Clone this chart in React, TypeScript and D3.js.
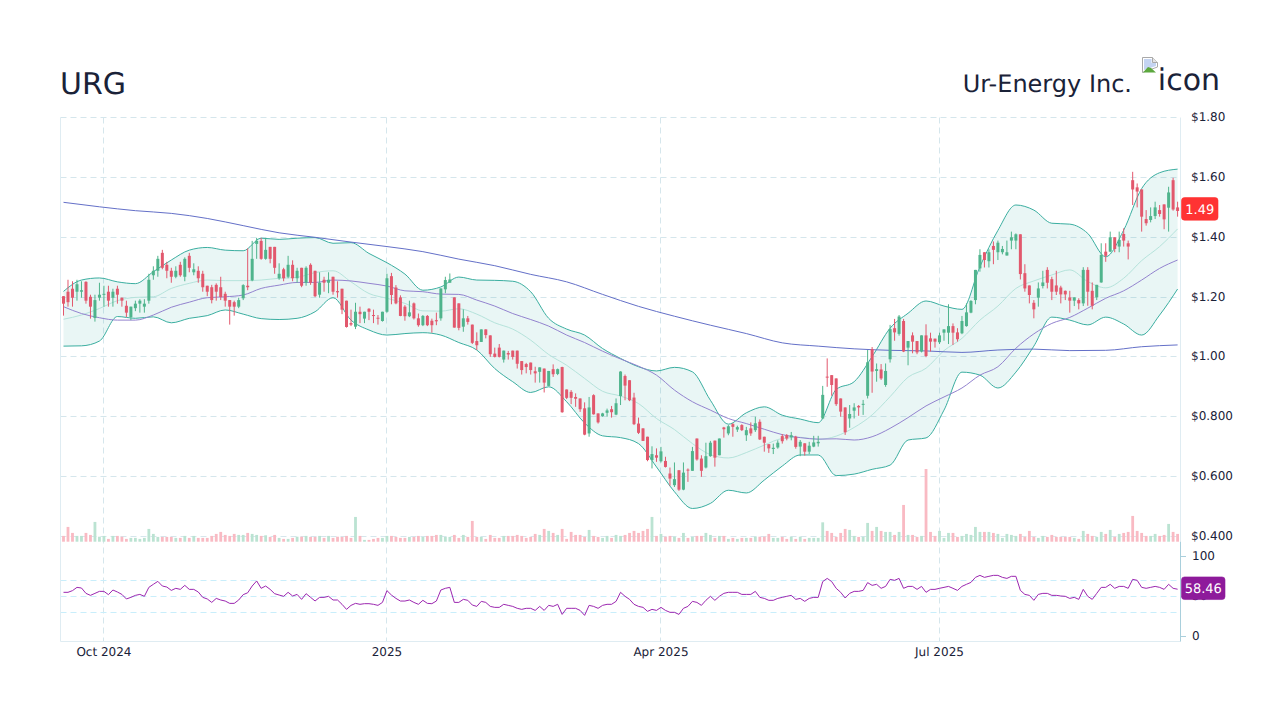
import React, { useEffect, useRef } from 'react';
import * as d3 from 'd3';

// --- Chart data ---
const symbol = 'URG';
const companyName = 'Ur-Energy Inc.';
const lastPrice = 1.49;
const lastRsi = 58.46;

const priceTicks = [1.8, 1.6, 1.4, 1.2, 1.0, 0.8, 0.6, 0.4];
const rsiTicks = [100, 50, 0];
const rsiGrid = [70, 50, 30];
const dateTickIndex = [9, 72, 133, 195];
const dateTickLabels = ['Oct 2024', '2025', 'Apr 2025', 'Jul 2025'];

// open, high, low, close per trading day
const ohlc: number[][] = [
  [1.2, 1.2, 1.135, 1.175], [1.215, 1.255, 1.165, 1.18], [1.225, 1.25, 1.165, 1.195], [1.215, 1.255, 1.185, 1.24],
  [1.215, 1.25, 1.195, 1.22], [1.248, 1.25, 1.175, 1.185], [1.198, 1.205, 1.125, 1.165], [1.127, 1.205, 1.115, 1.187],
  [1.195, 1.245, 1.185, 1.205], [1.205, 1.235, 1.165, 1.208], [1.215, 1.235, 1.165, 1.185], [1.195, 1.225, 1.165, 1.215],
  [1.225, 1.235, 1.175, 1.205], [1.195, 1.195, 1.165, 1.185], [1.168, 1.185, 1.13, 1.145], [1.13, 1.165, 1.12, 1.165],
  [1.16, 1.185, 1.15, 1.175], [1.175, 1.19, 1.145, 1.185], [1.165, 1.19, 1.145, 1.175], [1.185, 1.275, 1.175, 1.255],
  [1.27, 1.3, 1.255, 1.285], [1.285, 1.335, 1.265, 1.325], [1.345, 1.355, 1.29, 1.295], [1.305, 1.315, 1.26, 1.285],
  [1.285, 1.295, 1.245, 1.265], [1.265, 1.3, 1.26, 1.285], [1.305, 1.315, 1.265, 1.27], [1.265, 1.33, 1.25, 1.325],
  [1.335, 1.345, 1.28, 1.295], [1.28, 1.31, 1.27, 1.29], [1.285, 1.3, 1.245, 1.26], [1.275, 1.285, 1.215, 1.23],
  [1.235, 1.235, 1.2, 1.215], [1.23, 1.238, 1.176, 1.187], [1.238, 1.243, 1.185, 1.215], [1.23, 1.265, 1.187, 1.197],
  [1.208, 1.215, 1.165, 1.185], [1.187, 1.187, 1.105, 1.165], [1.18, 1.185, 1.135, 1.165], [1.165, 1.195, 1.16, 1.187],
  [1.193, 1.24, 1.187, 1.237], [1.235, 1.36, 1.22, 1.23], [1.253, 1.385, 1.25, 1.325], [1.375, 1.395, 1.325, 1.385],
  [1.385, 1.395, 1.322, 1.325], [1.325, 1.395, 1.322, 1.355], [1.365, 1.365, 1.31, 1.325], [1.365, 1.365, 1.275, 1.295],
  [1.26, 1.31, 1.255, 1.275], [1.29, 1.295, 1.25, 1.26], [1.265, 1.335, 1.26, 1.305], [1.305, 1.32, 1.25, 1.26],
  [1.26, 1.295, 1.245, 1.285], [1.295, 1.295, 1.23, 1.235], [1.245, 1.3, 1.235, 1.295], [1.305, 1.31, 1.238, 1.245],
  [1.285, 1.285, 1.197, 1.2], [1.205, 1.28, 1.195, 1.245], [1.255, 1.265, 1.215, 1.245], [1.245, 1.28, 1.21, 1.255],
  [1.265, 1.265, 1.205, 1.215], [1.217, 1.25, 1.195, 1.213], [1.225, 1.225, 1.14, 1.155], [1.185, 1.185, 1.095, 1.097],
  [1.11, 1.155, 1.1, 1.105], [1.098, 1.178, 1.09, 1.148], [1.148, 1.165, 1.11, 1.14], [1.125, 1.148, 1.11, 1.148],
  [1.158, 1.16, 1.12, 1.148], [1.137, 1.155, 1.11, 1.135], [1.128, 1.137, 1.105, 1.125], [1.117, 1.148, 1.115, 1.148],
  [1.148, 1.275, 1.145, 1.26], [1.267, 1.278, 1.173, 1.204], [1.229, 1.237, 1.173, 1.176], [1.196, 1.203, 1.133, 1.134],
  [1.165, 1.17, 1.118, 1.133], [1.133, 1.185, 1.13, 1.146], [1.176, 1.179, 1.122, 1.126], [1.126, 1.142, 1.098, 1.103],
  [1.103, 1.137, 1.1, 1.134], [1.134, 1.137, 1.1, 1.103], [1.118, 1.125, 1.078, 1.103], [1.12, 1.145, 1.103, 1.116],
  [1.126, 1.226, 1.118, 1.226], [1.223, 1.265, 1.21, 1.254], [1.245, 1.276, 1.245, 1.256], [1.196, 1.196, 1.095, 1.095],
  [1.176, 1.176, 1.086, 1.094], [1.098, 1.156, 1.081, 1.126], [1.126, 1.134, 1.105, 1.114], [1.105, 1.105, 1.04, 1.044],
  [1.05, 1.079, 1.02, 1.036], [1.047, 1.089, 1.047, 1.089], [1.089, 1.089, 1.059, 1.07], [1.069, 1.069, 0.997, 1.006],
  [1.008, 1.028, 0.995, 0.997], [1.028, 1.04, 0.995, 0.997], [0.988, 1.018, 0.978, 1.018], [1.01, 1.017, 0.988, 1.005],
  [1.018, 1.018, 0.988, 0.997], [1.018, 1.018, 0.958, 0.974], [0.983, 0.983, 0.938, 0.953], [0.973, 0.977, 0.942, 0.963],
  [0.978, 0.978, 0.938, 0.953], [0.949, 0.964, 0.911, 0.942], [0.947, 0.962, 0.911, 0.962], [0.958, 0.958, 0.878, 0.911],
  [0.9, 0.95, 0.899, 0.95], [0.956, 0.972, 0.93, 0.939], [0.94, 0.958, 0.936, 0.956], [0.963, 0.964, 0.81, 0.812],
  [0.888, 0.888, 0.856, 0.86], [0.88, 0.886, 0.839, 0.86], [0.863, 0.875, 0.83, 0.857], [0.858, 0.858, 0.813, 0.822],
  [0.825, 0.845, 0.735, 0.737], [0.741, 0.863, 0.73, 0.828], [0.869, 0.872, 0.804, 0.805], [0.808, 0.808, 0.774, 0.778],
  [0.799, 0.81, 0.797, 0.808], [0.81, 0.824, 0.797, 0.818], [0.822, 0.833, 0.794, 0.812], [0.804, 0.858, 0.802, 0.842],
  [0.866, 0.949, 0.836, 0.948], [0.933, 0.938, 0.852, 0.901], [0.919, 0.919, 0.849, 0.852], [0.861, 0.877, 0.769, 0.772],
  [0.774, 0.794, 0.739, 0.743], [0.758, 0.758, 0.716, 0.716], [0.73, 0.73, 0.648, 0.652], [0.652, 0.698, 0.624, 0.672],
  [0.668, 0.691, 0.646, 0.66], [0.648, 0.696, 0.644, 0.681], [0.649, 0.663, 0.627, 0.629], [0.607, 0.627, 0.566, 0.59],
  [0.568, 0.644, 0.562, 0.588], [0.618, 0.618, 0.549, 0.553], [0.553, 0.644, 0.551, 0.61], [0.62, 0.624, 0.579, 0.617],
  [0.616, 0.696, 0.616, 0.682], [0.724, 0.724, 0.65, 0.654], [0.657, 0.668, 0.596, 0.616], [0.627, 0.71, 0.624, 0.665],
  [0.665, 0.716, 0.663, 0.71], [0.717, 0.717, 0.63, 0.66], [0.668, 0.724, 0.668, 0.724], [0.761, 0.763, 0.727, 0.755],
  [0.741, 0.769, 0.735, 0.765], [0.772, 0.776, 0.73, 0.763], [0.754, 0.767, 0.746, 0.762], [0.769, 0.772, 0.749, 0.752],
  [0.735, 0.763, 0.716, 0.752], [0.758, 0.778, 0.733, 0.741], [0.752, 0.797, 0.746, 0.775], [0.78, 0.788, 0.719, 0.721],
  [0.73, 0.73, 0.68, 0.71], [0.705, 0.705, 0.676, 0.691], [0.689, 0.707, 0.672, 0.693], [0.694, 0.718, 0.69, 0.71],
  [0.732, 0.739, 0.707, 0.715], [0.735, 0.739, 0.718, 0.724], [0.728, 0.746, 0.718, 0.735], [0.73, 0.733, 0.69, 0.696],
  [0.697, 0.719, 0.665, 0.713], [0.708, 0.708, 0.667, 0.68], [0.68, 0.713, 0.672, 0.7], [0.697, 0.733, 0.695, 0.711],
  [0.708, 0.733, 0.697, 0.713], [0.791, 0.9, 0.789, 0.87], [0.931, 0.992, 0.897, 0.929], [0.936, 0.936, 0.867, 0.903],
  [0.925, 0.925, 0.833, 0.839], [0.858, 0.858, 0.797, 0.814], [0.828, 0.828, 0.736, 0.745], [0.791, 0.836, 0.76, 0.806],
  [0.817, 0.842, 0.791, 0.828], [0.833, 0.836, 0.8, 0.828], [0.838, 0.853, 0.803, 0.84], [0.867, 1.02, 0.858, 0.979],
  [1.023, 1.03, 0.877, 0.948], [0.95, 0.975, 0.914, 0.956], [0.955, 0.973, 0.92, 0.925], [0.903, 0.975, 0.897, 0.95],
  [0.989, 1.104, 0.978, 1.09], [1.093, 1.124, 1.051, 1.079], [1.074, 1.137, 1.068, 1.132], [1.117, 1.124, 1.013, 1.015],
  [1.028, 1.05, 0.969, 1.05], [1.069, 1.079, 1.009, 1.048], [1.05, 1.05, 1.006, 1.012], [1.015, 1.069, 1.012, 1.069],
  [1.069, 1.106, 0.996, 1.0], [1.059, 1.078, 1.015, 1.048], [1.058, 1.058, 1.028, 1.048], [1.046, 1.078, 1.04, 1.069],
  [1.078, 1.089, 1.051, 1.089], [1.078, 1.173, 1.04, 1.1], [1.1, 1.109, 1.037, 1.078], [1.079, 1.093, 1.048, 1.056],
  [1.076, 1.134, 1.073, 1.117], [1.1, 1.176, 1.098, 1.146], [1.145, 1.187, 1.143, 1.184], [1.187, 1.288, 1.173, 1.288],
  [1.293, 1.357, 1.282, 1.338], [1.347, 1.347, 1.296, 1.321], [1.317, 1.357, 1.296, 1.347], [1.368, 1.383, 1.307, 1.355],
  [1.347, 1.386, 1.321, 1.379], [1.347, 1.368, 1.34, 1.358], [1.336, 1.386, 1.336, 1.347], [1.386, 1.416, 1.357, 1.397],
  [1.386, 1.41, 1.357, 1.407], [1.407, 1.407, 1.256, 1.274], [1.277, 1.307, 1.215, 1.226], [1.236, 1.236, 1.176, 1.204],
  [1.178, 1.187, 1.126, 1.156], [1.195, 1.246, 1.165, 1.226], [1.234, 1.285, 1.226, 1.246], [1.288, 1.297, 1.226, 1.245],
  [1.257, 1.265, 1.187, 1.215], [1.236, 1.285, 1.204, 1.215], [1.229, 1.235, 1.176, 1.206], [1.218, 1.219, 1.187, 1.206],
  [1.196, 1.218, 1.145, 1.185], [1.185, 1.196, 1.167, 1.196], [1.187, 1.193, 1.156, 1.176], [1.176, 1.297, 1.167, 1.288],
  [1.288, 1.297, 1.168, 1.215], [1.218, 1.246, 1.156, 1.168], [1.196, 1.238, 1.187, 1.238], [1.246, 1.377, 1.245, 1.338],
  [1.349, 1.377, 1.315, 1.335], [1.349, 1.416, 1.347, 1.397], [1.397, 1.397, 1.347, 1.358], [1.366, 1.416, 1.347, 1.388],
  [1.408, 1.427, 1.366, 1.386], [1.377, 1.386, 1.323, 1.366], [1.588, 1.616, 1.505, 1.557], [1.564, 1.577, 1.497, 1.55],
  [1.557, 1.557, 1.416, 1.466], [1.458, 1.488, 1.436, 1.444], [1.455, 1.497, 1.447, 1.468], [1.468, 1.516, 1.458, 1.497],
  [1.488, 1.505, 1.466, 1.475], [1.507, 1.507, 1.424, 1.457], [1.496, 1.566, 1.416, 1.547], [1.588, 1.596, 1.486, 1.49],
  [1.497, 1.516, 1.466, 1.485],
];

// traded volume per day, in millions of shares
const volumes = [
  2.9, 7.4, 4.4, 2.9, 2.9, 4.4, 3.4, 9.9, 2.5, 2.9, 1.4, 2.9, 2.9, 2.5, 1.4, 1.9, 1.9, 1.4, 1.9, 6.4,
  3.9, 2.4, 2.4, 2.4, 2.4, 1.9, 1.9, 2.9, 1.9, 2.9, 1.9, 1.9, 1.9, 2.9, 3.9, 4.9, 3.4, 2.9, 3.9, 3.4,
  3.4, 4.4, 3.9, 3.4, 2.9, 3.2, 2.4, 3.4, 1.9, 1.4, 1.4, 1.9, 2.5, 2.5, 2.9, 2.4, 2.4, 2.9, 1.9, 2.9,
  1.9, 2.5, 2.4, 2.9, 1.9, 12.4, 2.9, 0.9, 0.9, 1.4, 1.9, 1.9, 2.9, 2.9, 2.4, 1.9, 1.9, 2.4, 2.4, 2.9,
  2.4, 2.9, 2.9, 3.4, 3.4, 2.4, 2.4, 3.4, 1.9, 3.4, 2.4, 10.4, 2.4, 2.4, 1.4, 3.4, 1.9, 1.9, 2.9, 2.9,
  2.9, 3.4, 2.9, 1.9, 2.4, 3.9, 3.4, 6.4, 5.4, 4.4, 3.4, 6.4, 1.4, 4.9, 3.4, 3.4, 2.4, 5.9, 2.9, 2.4,
  1.9, 2.9, 1.9, 3.4, 2.9, 3.4, 4.4, 5.4, 4.4, 5.4, 6.4, 12.4, 2.9, 3.9, 2.5, 2.9, 2.5, 1.9, 4.4, 1.9,
  2.4, 2.9, 2.9, 4.4, 3.4, 1.9, 2.9, 2.9, 1.4, 1.9, 1.4, 1.9, 1.9, 1.9, 2.5, 2.5, 2.5, 3.9, 1.9, 1.9,
  2.4, 1.4, 2.5, 1.4, 2.5, 1.4, 1.9, 1.9, 1.9, 9.7, 5.4, 4.4, 2.4, 4.4, 6.4, 5.9, 2.9, 2.4, 2.5, 9.4,
  5.4, 7.4, 5.4, 4.9, 4.9, 3.4, 4.9, 18.4, 3.4, 3.4, 2.4, 2.9, 36.4, 4.9, 2.9, 5.4, 1.9, 4.4, 4.4, 2.4,
  2.9, 3.9, 3.4, 7.4, 4.9, 4.9, 4.9, 4.4, 3.9, 1.9, 3.9, 3.4, 2.9, 3.9, 2.4, 5.4, 2.4, 1.9, 2.9, 2.4,
  3.4, 2.4, 2.4, 2.4, 2.4, 1.9, 1.4, 5.4, 3.9, 2.9, 2.4, 4.9, 3.9, 5.9, 2.4, 3.9, 4.4, 4.9, 12.9, 5.4,
  4.4, 2.9, 2.9, 3.9, 2.9, 3.4, 8.9, 4.9, 3.9,
];

const rsiValues = [
  54.6, 54.6, 56.7, 60.8, 60, 53.3, 50.8, 53.3, 55.8, 55.8, 51.7, 57.5, 55, 52, 46.3, 48.3, 50.8, 52, 49.6, 60.8,
  64.6, 68.3, 62.5, 61.2, 57, 59.6, 58.3, 63.3, 58.3, 58.3, 55, 48.3, 46.3, 42, 47, 45, 43.7, 40.8, 40.8, 45,
  51.7, 54, 62.5, 68.8, 59.6, 62.5, 58.3, 52.9, 51.2, 49.6, 54.6, 50, 52, 45.8, 52.9, 48.3, 43.8, 48.3, 48.3, 49.6,
  45, 45, 39.6, 33.3, 38.3, 40.8, 39.6, 40.4, 40.4, 39.6, 38.3, 42, 56.7, 51.2, 47, 43.7, 43.7, 45, 42, 39.6,
  44.6, 40.8, 40.4, 43.7, 57.5, 59.6, 60.8, 42, 42, 45.8, 44.6, 38.7, 37, 43.3, 42, 37, 35.8, 35.8, 39.6, 38.3,
  37, 34.6, 33.3, 34.6, 34.6, 32, 37, 32, 38.3, 37, 39.6, 27, 34.6, 34.6, 34.6, 32, 25.8, 38.3, 37, 34.6,
  38.3, 39.6, 39.6, 43.3, 54.6, 49.6, 45.8, 39.6, 37, 35.8, 30.8, 33.3, 32, 35.8, 32, 29.6, 29.6, 27, 34.6, 37,
  43.3, 42, 38.3, 44.6, 49.6, 44.6, 49.6, 53.3, 54.6, 54.6, 54.6, 52, 52, 52, 55.8, 48.3, 47, 44.6, 44.6, 47,
  48.3, 49.6, 50.8, 45.8, 47, 43.3, 47, 48.3, 48.3, 68, 72, 68, 59.6, 54.6, 47.5, 53.3, 55.8, 55.8, 57, 66.7,
  63.3, 64.6, 59.6, 62, 70.8, 69.6, 72, 59.6, 62, 62, 58.3, 62, 54.6, 58.3, 58.3, 59.6, 60.8, 62, 59.6, 57,
  62, 64.6, 67, 73.3, 75.8, 73.3, 74.6, 75.8, 75.8, 73.3, 72, 74.6, 74.6, 57, 52, 50.8, 44.6, 52, 53.3, 53.3,
  50.8, 50.8, 50, 49.6, 47, 48.3, 45.8, 58.3, 49.6, 45.8, 53.3, 60.8, 60.8, 64.6, 59.6, 62, 62, 59.6, 70.8, 69.6,
  60.8, 59.6, 60.8, 62, 60.8, 58.3, 64.6, 59.6, 58.46,
];

// Bollinger bands and SMA50: one reading every 4 trading days
const bandStep = 4;
const bbUpper = [
  1.216, 1.254, 1.261, 1.248, 1.242, 1.282, 1.321, 1.354, 1.363, 1.354, 1.352, 1.394, 1.39, 1.394, 1.396, 1.377,
  1.379, 1.343, 1.312, 1.274, 1.22, 1.231, 1.264, 1.254, 1.253, 1.25, 1.215, 1.126, 1.09, 1.07, 1.025, 0.992,
  0.964, 0.95, 0.962, 0.947, 0.852, 0.772, 0.81, 0.83, 0.802, 0.789, 0.777, 0.888, 0.914, 0.998, 1.093, 1.143,
  1.184, 1.167, 1.156, 1.299, 1.42, 1.505, 1.488, 1.444, 1.441, 1.41, 1.332, 1.421, 1.56, 1.613, 1.625,
];
const bbMiddle = [
  1.123, 1.137, 1.159, 1.185, 1.196, 1.198, 1.226, 1.243, 1.254, 1.252, 1.252, 1.254, 1.26, 1.263, 1.279, 1.285,
  1.248, 1.209, 1.193, 1.176, 1.151, 1.15, 1.158, 1.14, 1.111, 1.09, 1.053, 1.005, 0.969, 0.925, 0.882, 0.866,
  0.841, 0.791, 0.754, 0.707, 0.67, 0.659, 0.677, 0.702, 0.724, 0.728, 0.721, 0.732, 0.761, 0.803, 0.864, 0.929,
  0.959, 1.018, 1.059, 1.12, 1.167, 1.226, 1.251, 1.271, 1.288, 1.249, 1.228, 1.26, 1.319, 1.366, 1.425,
];
const bbLower = [
  1.033, 1.034, 1.05, 1.132, 1.126, 1.131, 1.111, 1.126, 1.135, 1.154, 1.14, 1.125, 1.122, 1.126, 1.148, 1.195,
  1.12, 1.087, 1.07, 1.075, 1.078, 1.07, 1.045, 1.02, 0.958, 0.914, 0.878, 0.897, 0.847, 0.776, 0.733, 0.727,
  0.707, 0.629, 0.546, 0.49, 0.507, 0.551, 0.542, 0.585, 0.632, 0.669, 0.669, 0.6, 0.605, 0.621, 0.635, 0.719,
  0.726, 0.819, 0.946, 0.936, 0.893, 0.946, 1.033, 1.13, 1.12, 1.104, 1.13, 1.107, 1.07, 1.137, 1.224,
];
const sma50 = [
  1.165, 1.142, 1.128, 1.12, 1.12, 1.137, 1.163, 1.18, 1.195, 1.198, 1.204, 1.226, 1.237, 1.246, 1.246, 1.254,
  1.251, 1.243, 1.234, 1.218, 1.215, 1.207, 1.206, 1.187, 1.167, 1.142, 1.122, 1.1, 1.07, 1.045, 1.016, 0.99,
  0.966, 0.936, 0.886, 0.847, 0.819, 0.791, 0.774, 0.755, 0.737, 0.727, 0.722, 0.723, 0.719, 0.73, 0.758, 0.794,
  0.833, 0.863, 0.893, 0.936, 0.964, 1.026, 1.074, 1.109, 1.129, 1.16, 1.193, 1.218, 1.254, 1.293, 1.321,
];

// SMA200: one reading every 8 trading days
const slowStep = 8;
const sma200 = [
  1.514, 1.499, 1.486, 1.477, 1.46, 1.436, 1.412, 1.397, 1.381, 1.366, 1.349, 1.324, 1.302, 1.273, 1.248, 1.206,
  1.166, 1.133, 1.103, 1.075, 1.044, 1.033, 1.024, 1.019, 1.017, 1.012, 1.02, 1.023, 1.018, 1.019, 1.031, 1.037,
];

const FONT = '"DejaVu Sans", sans-serif';
const INK = '#1a2238';
const UP = '#4fb48c';
const DOWN = '#e2586d';

const App: React.FC = () => {
  const svgRef = useRef<SVGSVGElement | null>(null);

  useEffect(() => {
    if (!svgRef.current) return;

    // --- 1. Setup ---
    const plot = { left: 60.5, right: 1180.5, top: 117.5, bottom: 641.5 };
    const volumeBase = 541.7;

    const svg = d3.select(svgRef.current);
    svg.selectAll('*').remove();

    const x = d3.scaleLinear().domain([0, ohlc.length - 1]).range([63.5, 1177.6]);
    const y = d3.scaleLinear().domain([0.4, 1.8]).range([535.4, 116.8]);
    const yVolume = d3.scaleLinear().domain([0, d3.max(volumes) as number]).range([volumeBase, 469]);
    const yRsi = d3.scaleLinear().domain([0, 100]).range([636, 556]);
    const gridRow = (d: number) => Math.round(y(d) + 0.4) + 0.5; // grid sits on whole pixel rows

    // --- 2. Titles ---
    svg.append('text').attr('x', 60).attr('y', 94).attr('font-size', 30).attr('fill', INK).attr('font-family', FONT).text(symbol);
    svg.append('text').attr('x', 1132).attr('y', 92).attr('text-anchor', 'end').attr('font-size', 24).attr('fill', INK).attr('font-family', FONT).text(companyName);
    svg.append('text').attr('x', 1220).attr('y', 90).attr('text-anchor', 'end').attr('font-size', 30).attr('fill', INK).attr('font-family', FONT).text('icon');

    // broken image placeholder next to the name
    const broken = svg.append('g').attr('transform', 'translate(1142,57)');
    broken.append('path').attr('d', 'M0.5,0.5H10.5L15.5,5.5V10L0.5,15.5Z').attr('fill', '#fff').attr('stroke', '#a9a9a9');
    broken.append('path').attr('d', 'M10.5,0.5V5.5H15.5').attr('fill', '#e4e4e4').attr('stroke', '#a9a9a9');
    broken.append('path').attr('d', 'M2,2H9.5V6H14V9L2,13Z').attr('fill', '#c4d4f2');
    broken.append('path').attr('d', 'M1,15.5L6,10L9,11L14,15.5Z').attr('fill', '#5ca83e');

    // --- 3. Grid and frame ---
    const grid = svg.append('g');
    const frame = '#dfecf2';
    grid.selectAll('.price-grid').data(priceTicks).enter().append('line')
      .attr('x1', plot.left).attr('x2', plot.right)
      .attr('y1', d => gridRow(d)).attr('y2', d => gridRow(d))
      .attr('stroke', '#d5e6ec').attr('stroke-dasharray', '6 4');
    grid.selectAll('.date-grid').data(dateTickIndex).enter().append('line')
      .attr('x1', d => Math.round(x(d)) - 0.5).attr('x2', d => Math.round(x(d)) - 0.5)
      .attr('y1', plot.top).attr('y2', plot.bottom)
      .attr('stroke', '#d5e6ec').attr('stroke-dasharray', '6 4');
    grid.selectAll('.rsi-grid').data(rsiGrid).enter().append('line')
      .attr('x1', plot.left).attr('x2', plot.right)
      .attr('y1', d => yRsi(d) + 0.5).attr('y2', d => yRsi(d) + 0.5)
      .attr('stroke', '#c9eefb').attr('stroke-dasharray', '6 4');
    grid.append('line').attr('x1', plot.left).attr('x2', plot.left).attr('y1', plot.top).attr('y2', plot.bottom).attr('stroke', frame);
    grid.append('line').attr('x1', plot.left).attr('x2', plot.right).attr('y1', plot.bottom).attr('y2', plot.bottom).attr('stroke', frame);
    grid.append('line').attr('x1', plot.right).attr('x2', plot.right).attr('y1', plot.top).attr('y2', volumeBase).attr('stroke', frame);
    grid.append('line').attr('x1', plot.right).attr('x2', plot.right).attr('y1', volumeBase).attr('y2', plot.bottom).attr('stroke', '#a9cfdc');

    // --- 4. Volume ---
    svg.append('g').selectAll('rect').data(volumes).enter().append('rect')
      .attr('x', (_, i) => x(i) - 1.4)
      .attr('width', 2.8)
      .attr('y', d => yVolume(d))
      .attr('height', d => volumeBase - yVolume(d))
      .attr('fill', (_, i) => (ohlc[i][3] >= ohlc[i][0] ? '#bbe3d2' : '#f9bac3'));

    // --- 5. Bollinger bands and moving averages ---
    const seriesLine = (step: number) => d3.line<number>()
      .x((_, i) => x(i * step))
      .y(d => y(d))
      .curve(d3.curveMonotoneX);
    const bandArea = d3.area<number>()
      .x((_, i) => x(i * bandStep))
      .y0((_, i) => y(bbLower[i]))
      .y1(d => y(d))
      .curve(d3.curveMonotoneX);

    svg.append('path').attr('d', bandArea(bbUpper)).attr('fill', 'rgba(38,166,154,0.1)');
    const lines: [number[], number, string][] = [
      [bbMiddle, bandStep, '#b5e3db'],
      [bbUpper, bandStep, '#3aaea0'],
      [bbLower, bandStep, '#3aaea0'],
      [sma50, bandStep, '#9383cf'],
      [sma200, slowStep, '#6470c8'],
    ];
    lines.forEach(([values, step, color]) => {
      svg.append('path').attr('d', seriesLine(step)(values)).attr('fill', 'none').attr('stroke', color).attr('stroke-width', 1);
    });

    // --- 6. Candles ---
    const candles = svg.append('g').selectAll('g').data(ohlc).enter().append('g')
      .attr('fill', d => (d[3] >= d[0] ? UP : DOWN))
      .attr('stroke', d => (d[3] >= d[0] ? UP : DOWN));
    candles.append('line')
      .attr('x1', (_, i) => x(i)).attr('x2', (_, i) => x(i))
      .attr('y1', d => y(d[1])).attr('y2', d => y(d[2]))
      .attr('stroke-width', 1);
    candles.append('rect')
      .attr('x', (_, i) => x(i) - 1.5)
      .attr('width', 3)
      .attr('y', d => y(Math.max(d[0], d[3])))
      .attr('height', d => Math.max(1, Math.abs(y(d[0]) - y(d[3]))))
      .attr('stroke', 'none');

    // --- 7. RSI ---
    svg.append('path')
      .attr('d', d3.line<number>().x((_, i) => x(i)).y(d => yRsi(d))(rsiValues))
      .attr('fill', 'none').attr('stroke', '#9c27b0').attr('stroke-width', 1);

    // --- 8. Axis labels ---
    const axis = svg.append('g').attr('font-family', FONT).attr('font-size', 12).attr('fill', INK);
    axis.selectAll('.price-label').data(priceTicks).enter().append('text')
      .attr('x', 1191).attr('y', d => gridRow(d) + 3.5)
      .text(d => '$' + (d >= 1 ? d.toFixed(2) : d.toFixed(3)));
    axis.selectAll('.rsi-label').data(rsiTicks).enter().append('text')
      .attr('x', 1192).attr('y', d => yRsi(d) + 4)
      .text(d => d);
    svg.append('g').selectAll('line').data(rsiTicks).enter().append('line')
      .attr('x1', plot.right).attr('x2', 1186)
      .attr('y1', d => yRsi(d) + 0.5).attr('y2', d => yRsi(d) + 0.5)
      .attr('stroke', '#a9cfdc');
    axis.selectAll('.date-label').data(dateTickLabels).enter().append('text')
      .attr('x', (_, i) => x(dateTickIndex[i]))
      .attr('y', 656)
      .attr('text-anchor', 'middle')
      .text(d => d);

    // --- 9. Last value labels ---
    const tag = (cy: number, w: number, fill: string, label: string) => {
      svg.append('rect').attr('x', 1181.5).attr('y', cy - 11.3).attr('width', w).attr('height', 22.6).attr('rx', 3)
        .attr('fill', fill).attr('stroke', fill).attr('stroke-opacity', 0.6);
      svg.append('text').attr('x', 1181.5 + w / 2).attr('y', cy + 5).attr('text-anchor', 'middle')
        .attr('font-family', FONT).attr('font-size', 13).attr('fill', '#fff').text(label);
    };
    tag(y(lastPrice) - 0.6, 36.5, '#ff3333', lastPrice.toFixed(2));
    tag(yRsi(lastRsi) - 1, 43.5, '#8e1a9b', lastRsi.toFixed(2));
  }, []);

  return (
    <svg
      ref={svgRef}
      width={1280}
      height={720}
      style={{ position: 'fixed', left: 0, top: 0, display: 'block', background: '#fff', textRendering: 'geometricPrecision' }}
    />
  );
};

export default App;
